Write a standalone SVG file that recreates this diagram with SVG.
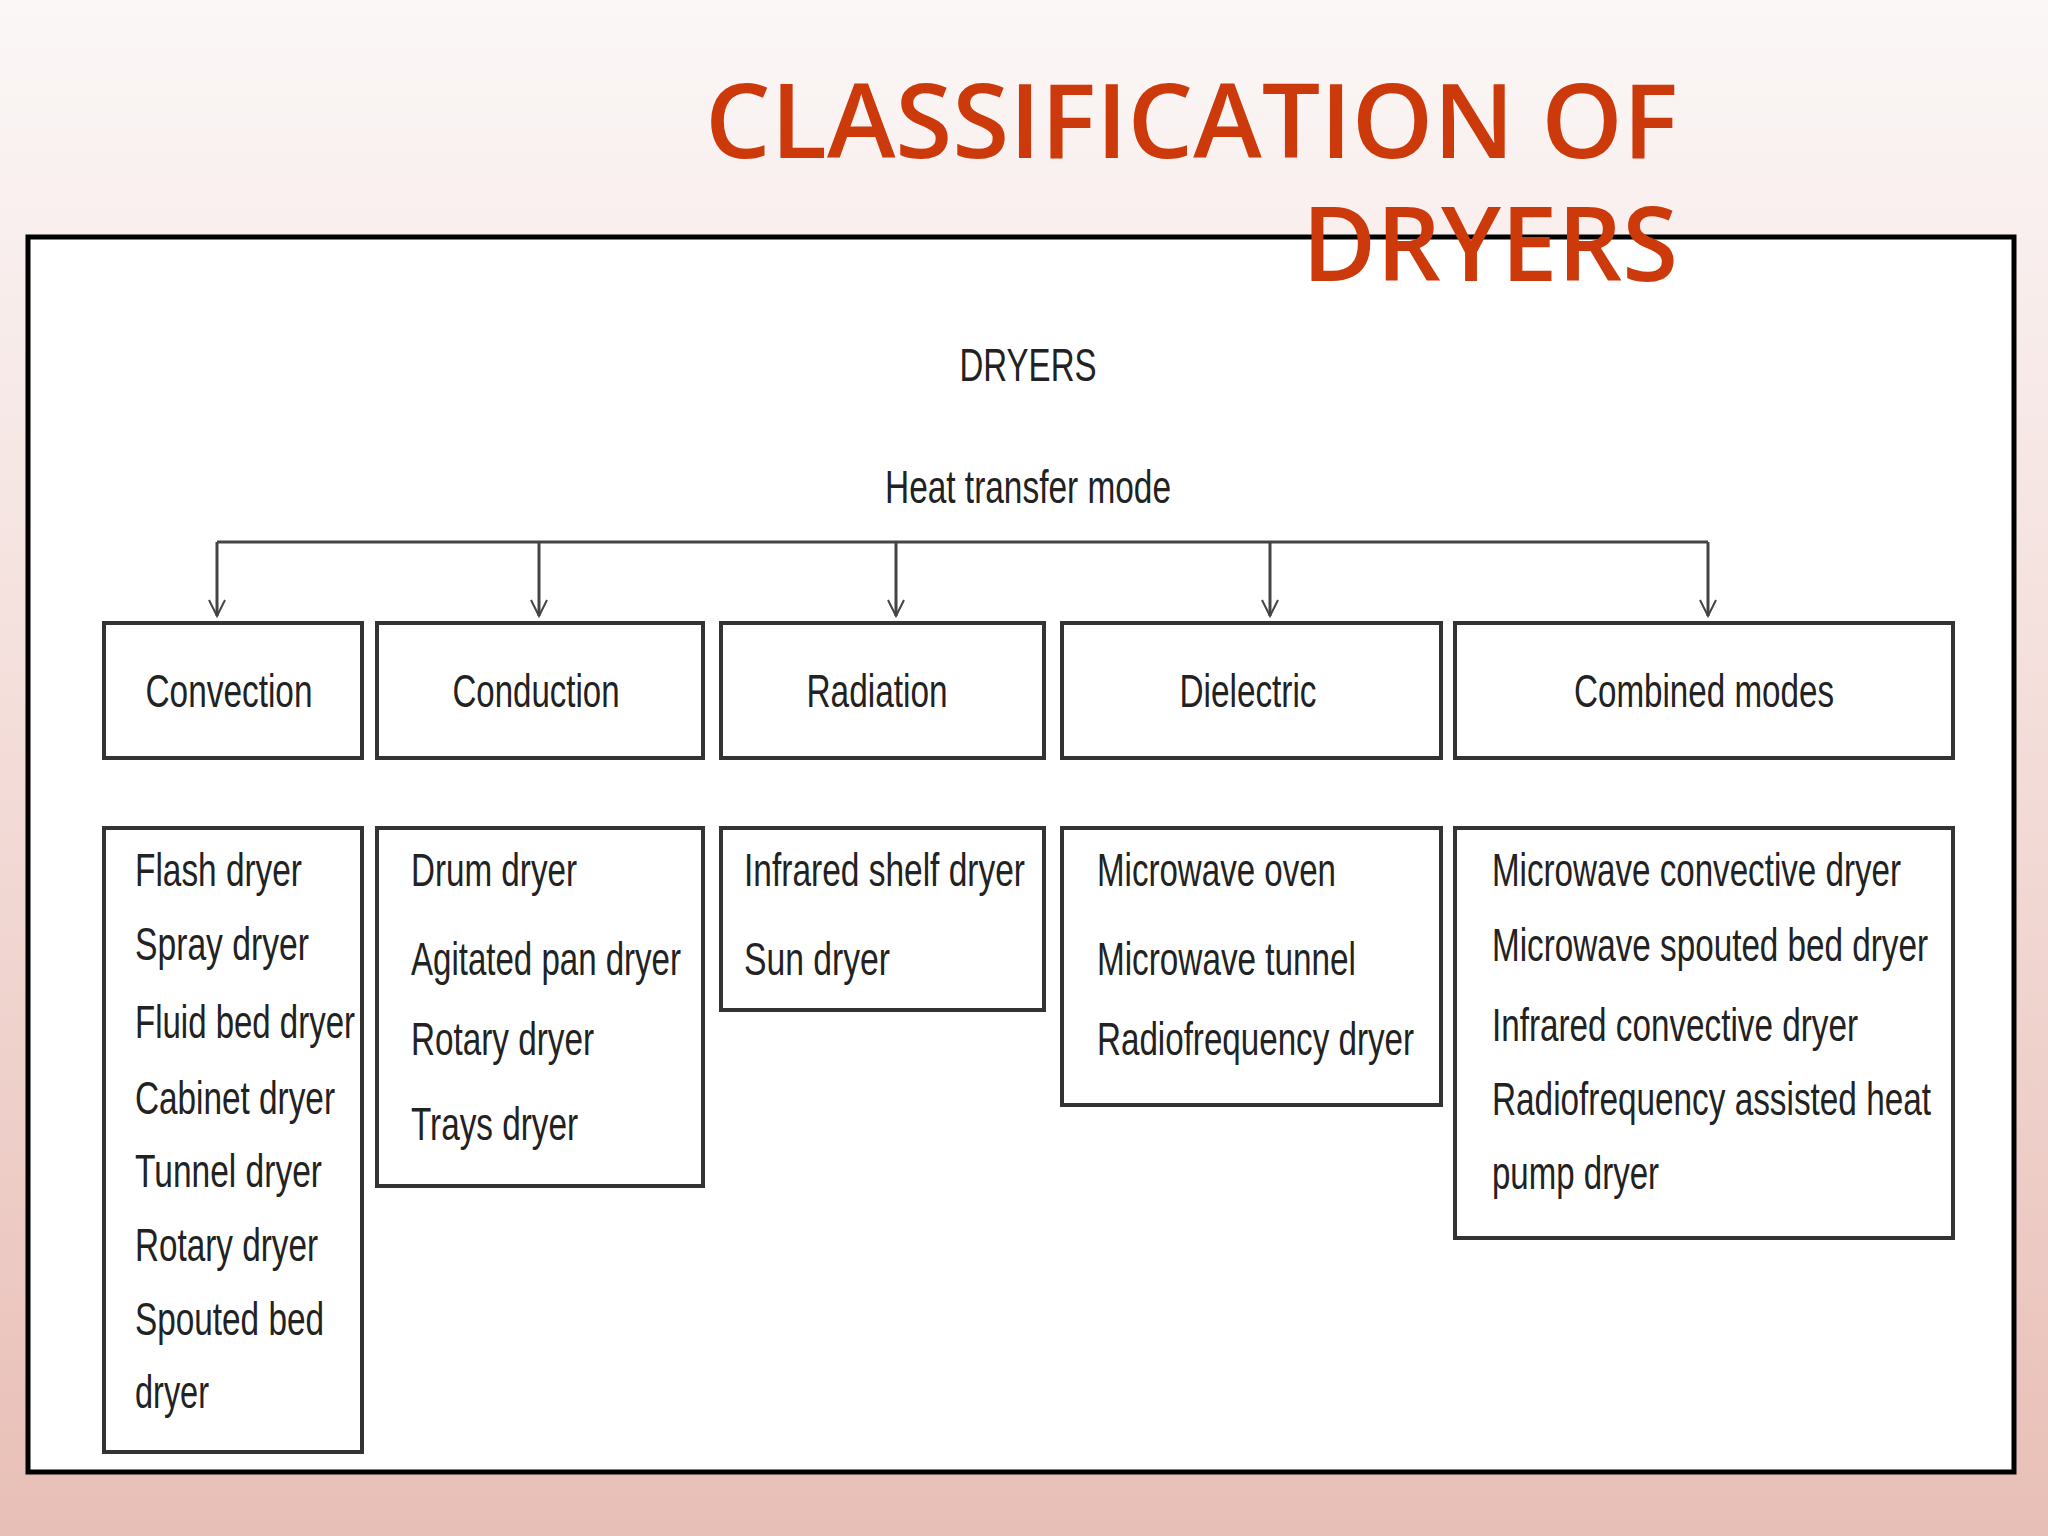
<svg xmlns="http://www.w3.org/2000/svg" width="2048" height="1536" viewBox="0 0 2048 1536">
<defs>
<linearGradient id="bg" x1="0" y1="0" x2="0" y2="1">
<stop offset="0" stop-color="#fbf7f7"/><stop offset="0.5" stop-color="#f3dcd8"/><stop offset="1" stop-color="#e8bfb6"/>
</linearGradient>
<marker id="arr" markerWidth="20" markerHeight="20" refX="18" refY="10" orient="auto" markerUnits="userSpaceOnUse" viewBox="0 0 20 20">
<path d="M2,2 L18,10 L2,18" fill="none" stroke="#444" stroke-width="2"/>
</marker>
<style>
.box{fill:#fff;stroke:#333;stroke-width:4}
.t{font-family:"Liberation Sans",Arial,sans-serif;font-size:46px;fill:#222}
.h{text-anchor:middle}
.c{stroke:#444;stroke-width:3;fill:none}
.title{font-family:"Open Sans","DejaVu Sans",sans-serif;font-size:104px;font-weight:600;fill:#cc3a0c;text-anchor:end}
</style>
</defs>
<rect width="2048" height="1536" fill="url(#bg)"/>
<rect x="28" y="237" width="1986" height="1235" fill="#fff" stroke="#000" stroke-width="5"/>
<text class="title" x="1678" y="158" textLength="973" lengthAdjust="spacingAndGlyphs">CLASSIFICATION OF</text>
<text class="title" x="1678" y="281" textLength="376" lengthAdjust="spacingAndGlyphs">DRYERS</text>
<g id="root"><text class="t h" x="1028" y="381" textLength="137" lengthAdjust="spacingAndGlyphs">DRYERS</text>
<text class="t h" x="1028" y="503" textLength="286" lengthAdjust="spacingAndGlyphs">Heat transfer mode</text></g>
<g id="connectors">
<path class="c" d="M217,542 H1708"/>
<path class="c" d="M217,542 V616" marker-end="url(#arr)"/>
<path class="c" d="M539,542 V616" marker-end="url(#arr)"/>
<path class="c" d="M896,542 V616" marker-end="url(#arr)"/>
<path class="c" d="M1270,542 V616" marker-end="url(#arr)"/>
<path class="c" d="M1708,542 V616" marker-end="url(#arr)"/>
</g>
<g id="convection"><rect class="box" x="104" y="623" width="258" height="135"/><text class="t h" x="229" y="707" textLength="167" lengthAdjust="spacingAndGlyphs">Convection</text></g>
<g id="conduction"><rect class="box" x="377" y="623" width="326" height="135"/><text class="t h" x="536" y="707" textLength="167" lengthAdjust="spacingAndGlyphs">Conduction</text></g>
<g id="radiation"><rect class="box" x="721" y="623" width="323" height="135"/><text class="t h" x="877" y="707" textLength="141" lengthAdjust="spacingAndGlyphs">Radiation</text></g>
<g id="dielectric"><rect class="box" x="1062" y="623" width="379" height="135"/><text class="t h" x="1248" y="707" textLength="137" lengthAdjust="spacingAndGlyphs">Dielectric</text></g>
<g id="combined"><rect class="box" x="1455" y="623" width="498" height="135"/><text class="t h" x="1704" y="707" textLength="260" lengthAdjust="spacingAndGlyphs">Combined modes</text></g>
<g id="convection-list"><rect class="box" x="104" y="828" width="258" height="624"/>
<text class="t" x="135" y="886" textLength="167" lengthAdjust="spacingAndGlyphs">Flash dryer</text>
<text class="t" x="135" y="960" textLength="174" lengthAdjust="spacingAndGlyphs">Spray dryer</text>
<text class="t" x="135" y="1038" textLength="220" lengthAdjust="spacingAndGlyphs">Fluid bed dryer</text>
<text class="t" x="135" y="1114" textLength="200" lengthAdjust="spacingAndGlyphs">Cabinet dryer</text>
<text class="t" x="135" y="1187" textLength="187" lengthAdjust="spacingAndGlyphs">Tunnel dryer</text>
<text class="t" x="135" y="1261" textLength="183" lengthAdjust="spacingAndGlyphs">Rotary dryer</text>
<text class="t" x="135" y="1335" textLength="189" lengthAdjust="spacingAndGlyphs">Spouted bed</text>
<text class="t" x="135" y="1408" textLength="74" lengthAdjust="spacingAndGlyphs">dryer</text></g>
<g id="conduction-list"><rect class="box" x="377" y="828" width="326" height="358"/>
<text class="t" x="411" y="886" textLength="166" lengthAdjust="spacingAndGlyphs">Drum dryer</text>
<text class="t" x="411" y="975" textLength="270" lengthAdjust="spacingAndGlyphs">Agitated pan dryer</text>
<text class="t" x="411" y="1055" textLength="183" lengthAdjust="spacingAndGlyphs">Rotary dryer</text>
<text class="t" x="411" y="1140" textLength="167" lengthAdjust="spacingAndGlyphs">Trays dryer</text></g>
<g id="radiation-list"><rect class="box" x="721" y="828" width="323" height="182"/>
<text class="t" x="744" y="886" textLength="281" lengthAdjust="spacingAndGlyphs">Infrared shelf dryer</text>
<text class="t" x="744" y="975" textLength="146" lengthAdjust="spacingAndGlyphs">Sun dryer</text></g>
<g id="dielectric-list"><rect class="box" x="1062" y="828" width="379" height="277"/>
<text class="t" x="1097" y="886" textLength="239" lengthAdjust="spacingAndGlyphs">Microwave oven</text>
<text class="t" x="1097" y="975" textLength="259" lengthAdjust="spacingAndGlyphs">Microwave tunnel</text>
<text class="t" x="1097" y="1055" textLength="317" lengthAdjust="spacingAndGlyphs">Radiofrequency dryer</text></g>
<g id="combined-list"><rect class="box" x="1455" y="828" width="498" height="410"/>
<text class="t" x="1492" y="886" textLength="409" lengthAdjust="spacingAndGlyphs">Microwave convective dryer</text>
<text class="t" x="1492" y="961" textLength="436" lengthAdjust="spacingAndGlyphs">Microwave spouted bed dryer</text>
<text class="t" x="1492" y="1041" textLength="366" lengthAdjust="spacingAndGlyphs">Infrared convective dryer</text>
<text class="t" x="1492" y="1115" textLength="439" lengthAdjust="spacingAndGlyphs">Radiofrequency assisted heat</text>
<text class="t" x="1492" y="1189" textLength="167" lengthAdjust="spacingAndGlyphs">pump dryer</text></g>
</svg>
